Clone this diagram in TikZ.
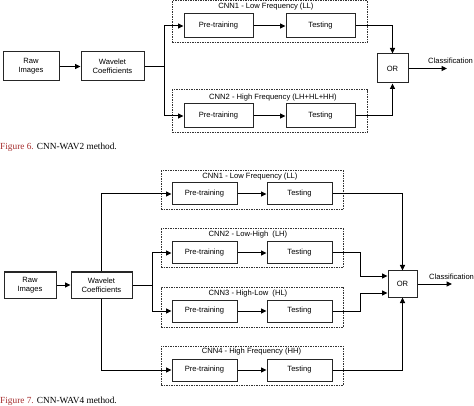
\documentclass[tikz,border=0pt]{standalone}
\usepackage{fontspec}
\setmainfont{Liberation Serif}
\setsansfont{Liberation Sans}
\usetikzlibrary{arrows.meta,positioning}
\definecolor{figred}{RGB}{165,45,45}

\begin{document}
\begin{tikzpicture}[x=1pt,y=-1pt,>={Triangle[length=5.5pt,width=5pt]},
  box/.style={draw=black!85,line width=1pt,inner sep=0pt,align=center,
    font=\sffamily\fontsize{7.6}{9}\selectfont},
  group/.style={draw=black!80,dash pattern=on 1.5pt off 1pt,line width=1pt,inner sep=0pt},
  grouplabel/.style={inner sep=0pt,font=\sffamily\fontsize{7.6}{9}\selectfont},
  conn/.style={->,line width=1pt},
  caption/.style={anchor=west,inner sep=0pt,font=\fontsize{9.3}{11}\selectfont}]
  \useasboundingbox (0,0) rectangle (474,406);

  % ---- Figure 6: two branches
  \node[group,minimum width=195pt,minimum height=42pt] (cnn61) at (269.5,22) {};
  \node[group,minimum width=195pt,minimum height=43pt] (cnn62) at (269.5,111.5) {};
  \node[grouplabel] (lab61) at (266,7) {CNN1 - Low Frequency (LL)};
  \node[grouplabel] (lab62) at (273,98) {CNN2 - High Frequency (LH+HL+HH)};
  \node[box,minimum width=56pt,minimum height=29pt] (raw6) at (31,66.5) {Raw\\Images};
  \node[box,minimum width=63pt,minimum height=29pt] (wav6) at (112.5,66.5) {Wavelet\\Coefficients};
  \node[box,minimum width=69pt,minimum height=24pt] (pre61) at (218.5,26) {Pre-training};
  \node[box,minimum width=69pt,minimum height=24pt] (test61) at (320.5,26) {Testing};
  \node[box,minimum width=69pt,minimum height=24pt] (pre62) at (218.5,116) {Pre-training};
  \node[box,minimum width=69pt,minimum height=24pt] (test62) at (320.5,116) {Testing};
  \node[box,minimum width=31pt,minimum height=29pt] (or6) at (392.5,68.5) {OR};
  \coordinate (br6) at (164,66.5);
  \coordinate (cls6) at (447,68.5);
  % connectors
  \draw[conn] (raw6) -- (wav6);
  \draw[line width=1pt] (wav6) -- (br6);
  \draw[conn] (br6) |- (pre61);
  \draw[conn] (br6) |- (pre62);
  \draw[conn] (pre61) -- (test61);
  \draw[conn] (pre62) -- (test62);
  \draw[conn] (test61) -| (or6);
  \draw[conn] (test62) -| (or6);
  \draw[conn] (or6) -- (cls6);
  \node[grouplabel,anchor=west] (clab6) at (428,61) {Classification};
  \node[caption] (cap6) at (0,147) {\textcolor{figred}{Figure 6.} CNN-WAV2 method.};

  % ---- Figure 7: four branches
  \node[group,minimum width=182pt,minimum height=39pt] (cnn71) at (252,190.5) {};
  \node[group,minimum width=182pt,minimum height=39pt] (cnn72) at (252,248.5) {};
  \node[group,minimum width=182pt,minimum height=40pt] (cnn73) at (252,307) {};
  \node[group,minimum width=182pt,minimum height=39pt] (cnn74) at (252,365.5) {};
  \node[grouplabel] (lab71) at (250,177) {CNN1 - Low Frequency (LL)};
  \node[grouplabel] (lab72) at (248,235) {CNN2 - Low-High\ \ (LH)};
  \node[grouplabel] (lab73) at (248,294) {CNN3 - High-Low\ \ (HL)};
  \node[grouplabel] (lab74) at (251.5,352) {CNN4 - High Frequency (HH)};
  \node[box,minimum width=52pt,minimum height=26pt] (raw7) at (30,285) {Raw\\Images};
  \node[box,minimum width=61pt,minimum height=26pt] (wav7) at (101.5,285) {Wavelet\\Coefficients};
  \node[box,minimum width=65pt,minimum height=22pt] (pre71) at (204.5,194) {Pre-training};
  \node[box,minimum width=65pt,minimum height=22pt] (test71) at (299.5,194) {Testing};
  \node[box,minimum width=65pt,minimum height=22pt] (pre72) at (204.5,253) {Pre-training};
  \node[box,minimum width=65pt,minimum height=22pt] (test72) at (299.5,253) {Testing};
  \node[box,minimum width=65pt,minimum height=22pt] (pre73) at (204.5,311) {Pre-training};
  \node[box,minimum width=65pt,minimum height=22pt] (test73) at (299.5,311) {Testing};
  \node[box,minimum width=65pt,minimum height=22pt] (pre74) at (204.5,370) {Pre-training};
  \node[box,minimum width=65pt,minimum height=22pt] (test74) at (299.5,370) {Testing};
  \node[box,minimum width=29pt,minimum height=26pt] (or7) at (402.5,284) {OR};
  \coordinate (br7) at (152,285);
  \coordinate (j72) at (360,276);
  \coordinate (j73) at (360,293);
  \coordinate (cls7) at (452,284);
  % connectors
  \draw[conn] (raw7) -- (wav7);
  \draw[line width=1pt] (wav7) -- (br7);
  \draw[conn] (wav7.north) |- (pre71);
  \draw[conn] (br7) |- (pre72);
  \draw[conn] (br7) |- (pre73);
  \draw[conn] (wav7.south) |- (pre74);
  \draw[conn] (pre71) -- (test71);
  \draw[conn] (pre72) -- (test72);
  \draw[conn] (pre73) -- (test73);
  \draw[conn] (pre74) -- (test74);
  \draw[conn] (test71) -| (or7);
  \draw[conn] (test72) -| (j72) -- (or7.west |- j72);
  \draw[conn] (test73) -| (j73) -- (or7.west |- j73);
  \draw[conn] (test74) -| (or7);
  \draw[conn] (or7) -- (cls7);
  \node[grouplabel,anchor=west] (clab7) at (429,277) {Classification};
  \node[caption] (cap7) at (0,401) {\textcolor{figred}{Figure 7.} CNN-WAV4 method.};
\end{tikzpicture}
\end{document}
